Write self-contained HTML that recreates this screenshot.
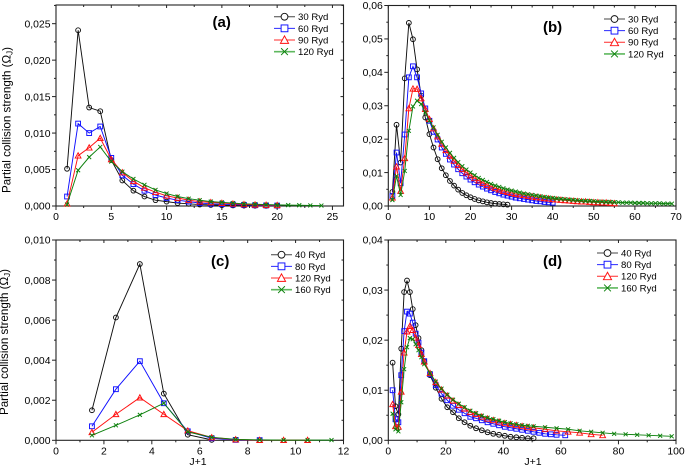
<!DOCTYPE html>
<html>
<head>
<meta charset="utf-8">
<title>Partial collision strength</title>
<style>
html,body{margin:0;padding:0;background:#fff;}
#chart{display:block;width:685px;height:468px;font-family:"Liberation Sans",sans-serif;fill:#000;}
</style>
</head>
<body>
<svg id="chart" xmlns="http://www.w3.org/2000/svg" width="685" height="468" viewBox="0 0 685 468">
<defs><filter id="soft" x="-5%" y="-5%" width="110%" height="110%"><feGaussianBlur stdDeviation="0.3"/></filter></defs>
<g id="root" filter="url(#soft)">
<text transform="translate(10.5,193) rotate(-90)" font-size="11.6">Partial collision strength (Ω<tspan font-size="8" dy="2">J</tspan><tspan dy="-2">)</tspan></text>
<text transform="translate(8,415) rotate(-90)" font-size="11.6">Partial collision strength (Ω<tspan font-size="8" dy="2">J</tspan><tspan dy="-2">)</tspan></text>
<text x="198" y="465" font-size="10.5" text-anchor="middle">J+1</text>
<text x="533" y="465" font-size="10.5" text-anchor="middle">J+1</text>
</g>
</svg>
<script>
/* Tick values */
const xTicksA = [0, 5, 10, 15, 20, 25];
const yTicksA = [0, 0.005, 0.01, 0.015, 0.02, 0.025];
const yLabelsA = ['0,000', '0,005', '0,010', '0,015', '0,020', '0,025'];
const xTicksB = [0, 10, 20, 30, 40, 50, 60, 70];
const yTicksB = [0, 0.01, 0.02, 0.03, 0.04, 0.05, 0.06];
const yLabelsB = ['0,00', '0,01', '0,02', '0,03', '0,04', '0,05', '0,06'];
const xTicksC = [0, 2, 4, 6, 8, 10, 12];
const yTicksC = [0, 0.002, 0.004, 0.006, 0.008, 0.01];
const yLabelsC = ['0,000', '0,002', '0,004', '0,006', '0,008', '0,010'];
const xTicksD = [0, 20, 40, 60, 80, 100];
const yTicksD = [0, 0.01, 0.02, 0.03, 0.04];
const yLabelsD = ['0,00', '0,01', '0,02', '0,03', '0,04'];

/* Legend names */
const legendTop = ['30 Ryd', '60 Ryd', '90 Ryd', '120 Ryd'];
const legendTopB = ['30 Ryd', '60 Ryd', '90 Ryd', '120 Ryd'];
const legendBottom = ['40 Ryd', '80 Ryd', '120 Ryd', '160 Ryd'];

/* Panel (a) */
const jA = [1,2,3,4,5,6,7,8,9,10,11,12,13,14,15,16,17,18,19,20,21,22,23,24];
const a30 = [.0051,.0241,.0135,.0130,.0063,.0035,.0021,.0013,.0008,.0006,.0004,.0003,.0002,.00015,.0001,.00008,.00005,.00004,.00003,.00002];
const a60 = [.0013,.0113,.0100,.0109,.0066,.0042,.0030,.0021,.0015,.0011,.0008,.0006,.0004,.0003,.00025,.0002,.00015,.0001,.00008,.00006];
const a90 = [.0003,.0069,.0080,.0093,.0064,.0046,.0034,.0025,.0019,.0014,.0011,.0008,.0006,.0005,.0004,.0003,.00022,.00017,.00013,.0001];
const a120 = [.0002,.0049,.0067,.0081,.0061,.0047,.0037,.0029,.0022,.0017,.0013,.0010,.0008,.0006,.0005,.0004,.0003,.00025,.0002,.00015,.00012,.0001,.00008,.00006];

/* Panel (b) */
const jB = [1,2,3,4,5,6,7,8,9,10,11,12,13,14,15,16,17,18,19,20,21,22,23,24,25,26,27,28,29,30,31,32,33,34,35,36,37,38,39,40,41,42,43,44,45,46,47,48,49,50,51,52,53,54,55,56,57,58,59,60,61,62,63,64,65,66,67,68,69];
const b30 = [.0042,.0243,.0130,.0382,.0548,.0499,.0409,.0330,.0265,.0215,.0175,.0140,.0113,.0092,.0075,.0061,.0049,.0039,.0032,.0026,.0021,.0017,.0014,.0011,.0009,.0007,.0006,.0005,.0004];
const b60 = [.0030,.0160,.0068,.0214,.0385,.0418,.0385,.0337,.0292,.0255,.0222,.0199,.0175,.0156,.0139,.0124,.0110,.0098,.0088,.0079,.0071,.0064,.0058,.0052,.0047,.0042,.0038,.0034,.0031,.0028,.0025,.0023,.0021,.0019,.0017,.0015,.0014,.0012,.0011,.0010];
const b90 = [.0025,.0118,.0045,.0143,.0292,.0351,.0350,.0322,.0290,.0260,.0232,.0208,.0186,.0167,.0150,.0135,.0122,.0110,.0100,.0091,.0083,.0076,.0069,.0063,.0058,.0053,.0049,.0045,.0042,.0039,.0036,.0034,.0032,.0030,.0028,.0026,.0025,.0023,.0022,.0020,.0019,.0018,.0017,.0016,.0015,.0014,.0013,.0013,.0012,.0011,.0011,.0010,.0010,.0009,.0008];
const b120 = [.0018,.0090,.0033,.0105,.0225,.0298,.0315,.0305,.0280,.0255,.0235,.0213,.0192,.0175,.0159,.0144,.0131,.0119,.0109,.0100,.0092,.0084,.0078,.0072,.0066,.0061,.0057,.0053,.0049,.0046,.0043,.0040,.0037,.0035,.0033,.0031,.0029,.0027,.0025,.0024,.0022,.0021,.0020,.0019,.0018,.0017,.0016,.0015,.0015,.0014,.0013,.0013,.0012,.0012,.0011,.0011,.0010,.0010,.0010,.0009,.0009,.0009,.0008,.0008,.0008,.0008,.0007,.0007,.0007];

/* Panel (c) */
const jC = [1.5,2.5,3.5,4.5,5.5,6.5,7.5,8.5,9.5,10.5,11.5];
const c40 = [.0015,.00613,.0088,.00233,.00028,.00002];
const c80 = [.0007,.00255,.00395,.00185,.00045,.0001,.00002,.00001];
const c120 = [.0004,.0013,.00213,.0013,.00048,.00014,.00004,.00001,.00001,.00001];
const c160 = [.00025,.00075,.00127,.00185,.00042,.00015,.00005,.00002,.00001,.00001,.00001];

/* Panel (d) */
const d40x = [1.5,2.5,3.5,4.5,5.5,6.5,7.5,8.5,9.5,10.5,11.5,12.5,14.5,16.5,18.5,20.5,22.5,24.5,26.5,28.5,30.5,32.5,34.5,36.5,38.5,40.5,42.5,44.5,46.5,48.5,50.5];
const d40 = [.0155,.0068,.0052,.0183,.0296,.0319,.0296,.0262,.0230,.0204,.0180,.0158,.0130,.0105,.0083,.0066,.0056,.0044,.0036,.0029,.0024,.0020,.0016,.0013,.0011,.0009,.0007,.0006,.0005,.0004,.0004];
const d80x = [1.5,2.5,3.5,4.5,5.5,6.5,7.5,8.5,9.5,10.5,11.5,12.5,14.5,16.5,18.5,20.5,22.5,24.5,26.5,28.5,30.5,32.5,34.5,36.5,38.5,40.5,42.5,44.5,46.5,48.5,50.5,52.5,54.5,56.5,58.5,61.5];
const d80 = [.0100,.0042,.0036,.0130,.0218,.0257,.0253,.0235,.0213,.0195,.0175,.0158,.0132,.0110,.0093,.0080,.0069,.0061,.0054,.0047,.0044,.0040,.0036,.0033,.0030,.0027,.0025,.0023,.0021,.0019,.0017,.0015,.0013,.0012,.0011,.0010];
const d120x = [1.5,2.5,3.5,4.5,5.5,6.5,7.5,8.5,9.5,10.5,11.5,12.5,14.5,16.5,18.5,20.5,22.5,24.5,26.5,28.5,30.5,32.5,34.5,36.5,38.5,40.5,42.5,44.5,46.5,48.5,50.5,54.5,58.5,62.5,66.5,70.5,74.5];
const d120 = [.0072,.0028,.0027,.0097,.0175,.0217,.0228,.0220,.0205,.0190,.0172,.0157,.0134,.0116,.0101,.0089,.0079,.0070,.0063,.0056,.0052,.0047,.0043,.0040,.0037,.0034,.0032,.0030,.0028,.0026,.0025,.0022,.0019,.0017,.0015,.0012,.0010];
const d160x = [1.5,2.5,3.5,4.5,5.5,6.5,7.5,8.5,9.5,10.5,11.5,12.5,14.5,16.5,18.5,20.5,22.5,24.5,26.5,28.5,30.5,32.5,34.5,36.5,38.5,40.5,42.5,44.5,46.5,48.5,50.5,54.5,58.5,62.5,66.5,70.5,74.5,78.5,82.5,86.5,90.5,94.5,98.5];
const d160 = [.0053,.0022,.0018,.0076,.0142,.0186,.0204,.0202,.0192,.0180,.0166,.0152,.0134,.0117,.0103,.0091,.0081,.0073,.0066,.0059,.0054,.0049,.0045,.0042,.0039,.0036,.0034,.0032,.0030,.0029,.0028,.0026,.0024,.0022,.0019,.0017,.0015,.0013,.0012,.0011,.0010,.0009,.0008];

const NS = 'http://www.w3.org/2000/svg';
const root = document.getElementById('root');
const COLORS = ['#111111', '#1010ff', '#ff1010', '#0a800a'];
const LEGEND_LINES = ['#444444', '#2a2aff', '#ff2a2a', '#5fb85f'];

function mk(tag, attrs, parent) {
  const el = document.createElementNS(NS, tag);
  for (const k in attrs) el.setAttribute(k, attrs[k]);
  parent.appendChild(el);
  return el;
}

function drawMarker(kind, x, y, s, color, fill, parent) {
  let el;
  if (kind === 0) {
    el = mk('circle', {cx: x, cy: y, r: s, fill: fill, stroke: color, 'stroke-width': 0.95}, parent);
  } else if (kind === 1) {
    el = mk('rect', {x: x - s, y: y - s, width: 2 * s, height: 2 * s, fill: fill, stroke: color, 'stroke-width': 0.95}, parent);
  } else if (kind === 2) {
    const pts = (x - s * 1.2) + ',' + (y + s) + ' ' + (x + s * 1.2) + ',' + (y + s) + ' ' + x + ',' + (y - s * 1.2);
    el = mk('polygon', {points: pts, fill: fill, stroke: color, 'stroke-width': 0.95}, parent);
  } else {
    const d = 'M' + (x - s) + ' ' + (y - s) + 'L' + (x + s) + ' ' + (y + s) + 'M' + (x - s) + ' ' + (y + s) + 'L' + (x + s) + ' ' + (y - s);
    el = mk('path', {d: d, fill: 'none', stroke: color, 'stroke-width': 0.95}, parent);
  }
  return el;
}

function drawPanel(id, box, xMax, yMax, xTicks, yTicks, yLabels, seriesList, names, legend, tag) {
  const g = mk('g', {}, root);
  
  
  const sx = v => box.l + (v / xMax) * (box.r - box.l);
  const sy = v => box.b - (v / yMax) * (box.b - box.t);

  const frame = mk('rect', {x: box.l, y: box.t, width: box.r - box.l, height: box.b - box.t, fill: '#fff', stroke: '#222', 'stroke-width': 1.1}, g);
  
  

  const xStep = xTicks[1] - xTicks[0];
  const yStep = yTicks[1] - yTicks[0];
  const axisStyle = {stroke: '#222', 'stroke-width': 1};
  xTicks.forEach((v, i) => {
    const x = sx(v);
    const t = mk('line', Object.assign({x1: x, x2: x, y1: box.b, y2: box.b + 4}, axisStyle), g);
    
    
    mk('line', Object.assign({x1: x, x2: x, y1: box.t, y2: box.t + 3}, axisStyle), g);
    const label = mk('text', {x: x, y: box.b + 14, 'font-size': 10.4, 'text-anchor': 'middle'}, g);
    label.textContent = String(v);
    
    
    const m = v + xStep / 2;
    if (m <= xMax) {
      mk('line', Object.assign({x1: sx(m), x2: sx(m), y1: box.b, y2: box.b + 2}, axisStyle), g);
      mk('line', Object.assign({x1: sx(m), x2: sx(m), y1: box.t, y2: box.t + 2}, axisStyle), g);
    }
  });
  yTicks.forEach((v, i) => {
    const y = sy(v);
    const t = mk('line', Object.assign({x1: box.l - 4, x2: box.l, y1: y, y2: y}, axisStyle), g);
    
    
    mk('line', Object.assign({x1: box.r - 3, x2: box.r, y1: y, y2: y}, axisStyle), g);
    const label = mk('text', {x: box.l - 5.5, y: y + 3.7, 'font-size': 10.4, 'text-anchor': 'end'}, g);
    label.textContent = yLabels[i];
    
    
    const m = v + yStep / 2;
    if (m <= yMax) {
      mk('line', Object.assign({x1: box.l - 2, x2: box.l, y1: sy(m), y2: sy(m)}, axisStyle), g);
      mk('line', Object.assign({x1: box.r - 2, x2: box.r, y1: sy(m), y2: sy(m)}, axisStyle), g);
    }
  });

  seriesList.forEach((s, k) => {
    const sg = mk('g', {}, g);
    
    
    const pts = s.y.map((v, i) => sx(s.x[i]).toFixed(2) + ',' + sy(v).toFixed(2)).join(' ');
    const line = mk('polyline', {points: pts, fill: 'none', stroke: COLORS[k], 'stroke-width': 0.95}, sg);
    
    
    s.y.forEach((v, i) => {
      const p = drawMarker(k, sx(s.x[i]), sy(v), k === 3 ? 2 : 2.4, COLORS[k], 'none', sg);
      
      
    });
  });

  const lg = mk('g', {}, g);
  
  
  names.forEach((n, k) => {
    const y = legend.y + k * 11.65;
    const entry = mk('g', {}, lg);
    
    
    mk('line', {x1: legend.x, x2: legend.x + 21, y1: y, y2: y, stroke: LEGEND_LINES[k], 'stroke-width': k === 3 ? 1.6 : 1}, entry);
    drawMarker(k, legend.x + 10.5, y, 3.4, COLORS[k], k === 3 ? 'none' : '#fff', entry);
    const label = mk('text', {x: legend.x + 24, y: y + 3.4, 'font-size': 9.6}, entry);
    label.textContent = n;
  });

  const title = mk('text', {x: tag.x, y: tag.y, 'font-size': 15, 'font-weight': 'bold', fill: '#000'}, g);
  title.textContent = '(' + id + ')';
  
  
}

drawPanel('a', {l: 56, r: 343.5, t: 5, b: 206}, 26, 0.02756, xTicksA, yTicksA, yLabelsA,
  [{x: jA, y: a30}, {x: jA, y: a60}, {x: jA, y: a90}, {x: jA, y: a120}],
  legendTop, {x: 274, y: 16.7}, {x: 212.5, y: 27});
drawPanel('b', {l: 388.3, r: 676, t: 5.5, b: 206}, 70, 0.06, xTicksB, yTicksB, yLabelsB,
  [{x: jB, y: b30}, {x: jB, y: b60}, {x: jB, y: b90}, {x: jB, y: b120}],
  legendTopB, {x: 604, y: 19}, {x: 543, y: 32});
drawPanel('c', {l: 56, r: 343.5, t: 240, b: 440.3}, 12, 0.01, xTicksC, yTicksC, yLabelsC,
  [{x: jC, y: c40}, {x: jC, y: c80}, {x: jC, y: c120}, {x: jC, y: c160}],
  legendBottom, {x: 271, y: 254.7}, {x: 211, y: 266});
drawPanel('d', {l: 388.3, r: 676, t: 240, b: 440.3}, 100, 0.04, xTicksD, yTicksD, yLabelsD,
  [{x: d40x, y: d40}, {x: d80x, y: d80}, {x: d120x, y: d120}, {x: d160x, y: d160}],
  legendBottom, {x: 597, y: 253}, {x: 543, y: 266});
</script>
</body>
</html>
